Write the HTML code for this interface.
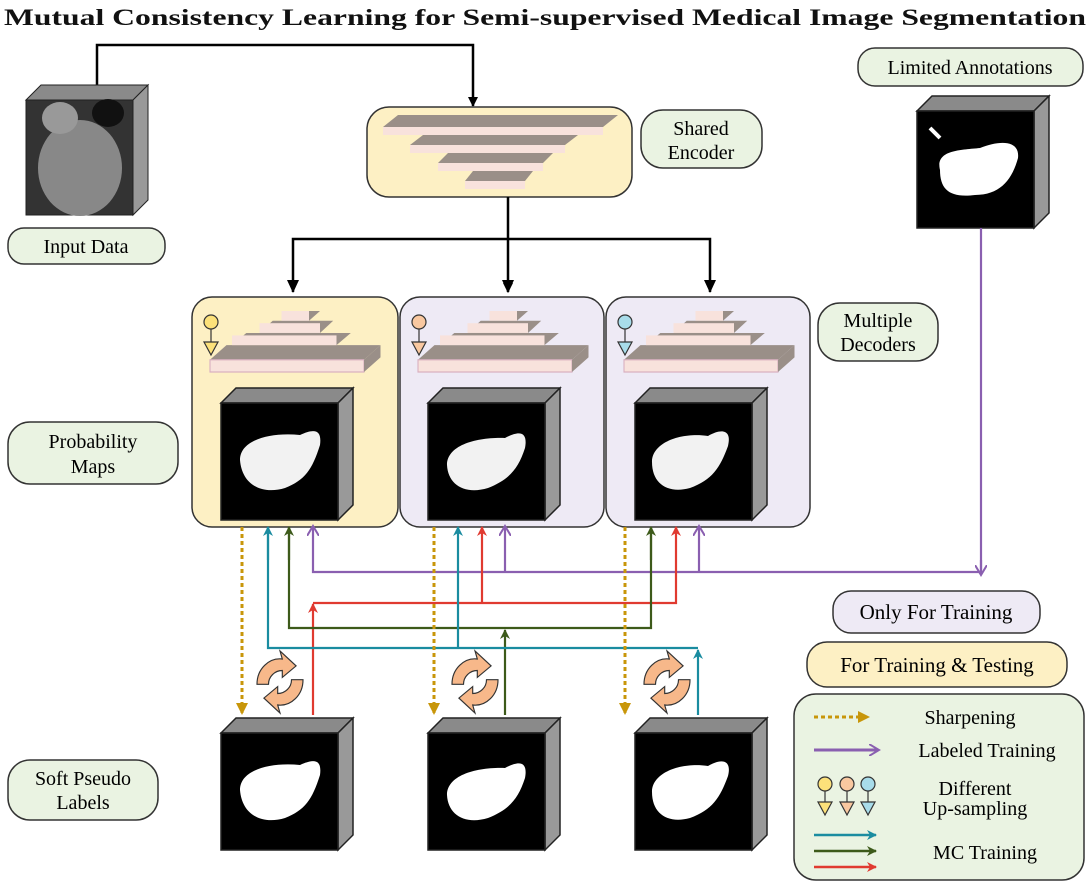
<!DOCTYPE html>
<html><head><meta charset="utf-8"><style>
html,body{margin:0;padding:0;background:#fff;}
svg{display:block;}
svg text{font-family:"Liberation Serif","DejaVu Serif",serif;}
</style></head><body>
<svg width="1091" height="886" viewBox="0 0 1091 886" xmlns="http://www.w3.org/2000/svg">
<defs>
<marker id="ab" markerWidth="10" markerHeight="10" refX="9" refY="5" orient="auto" markerUnits="userSpaceOnUse"><path d="M0,0 L10,5 L0,10 Z" fill="#000"/></marker>
<marker id="ap" markerWidth="12" markerHeight="12" refX="9" refY="6" orient="auto" markerUnits="userSpaceOnUse"><path d="M0,0 L10,6 L0,12" fill="none" stroke="#8a5fb0" stroke-width="2"/></marker>
<marker id="ac" markerWidth="10" markerHeight="10" refX="9" refY="5" orient="auto" markerUnits="userSpaceOnUse"><path d="M0,0 L10,5 L0,10 L3,5Z" fill="#1a8ca0"/></marker>
<marker id="ag" markerWidth="10" markerHeight="10" refX="9" refY="5" orient="auto" markerUnits="userSpaceOnUse"><path d="M0,0 L10,5 L0,10 L3,5Z" fill="#3d5a1a"/></marker>
<marker id="ar" markerWidth="10" markerHeight="10" refX="9" refY="5" orient="auto" markerUnits="userSpaceOnUse"><path d="M0,0 L10,5 L0,10 L3,5Z" fill="#e03a30"/></marker>
<marker id="ay" markerWidth="12" markerHeight="12" refX="10" refY="6" orient="auto" markerUnits="userSpaceOnUse"><path d="M0,0 L12,6 L0,12 Z" fill="#c8960a"/></marker>
<g id="cube">
<polygon points="0,0 15,-15 132,-15 117,0" fill="#8a8a8a" stroke="#222" stroke-width="1.5"/>
<polygon points="117,0 132,-15 132,102 117,117" fill="#999" stroke="#222" stroke-width="1.5"/>
<rect x="0" y="0" width="117" height="117" fill="#000" stroke="#222" stroke-width="1.5"/>
</g>
<g id="dec">
<polygon points="0,40 140,40 155,28 15,28" fill="#9a8f88"/><rect x="0" y="40" width="140" height="10" fill="#f8e2dc" stroke="#d9b0c0"/><polygon points="140,50 155,38 155,28 140,40" fill="#9a8f88"/>
<polygon points="20,28 115,28 128,18 33,18" fill="#9a8f88"/><rect x="20" y="20" width="95" height="8" fill="#f8e2dc"/>
<polygon points="45,18 100,18 112,8 57,8" fill="#9a8f88"/><rect x="45" y="10" width="55" height="8" fill="#f8e2dc"/>
<polygon points="65,8 90,8 100,0 75,0" fill="#9a8f88"/><rect x="65" y="0" width="25" height="8" fill="#f8e2dc"/>
</g>
<g id="cyc">
<path d="M-20,2 A20,22 0 0 1 2,-20 L0,-27 L14,-14 L2,-4 L2,-10 A12,12 0 0 0 -10,2 Z" fill="#f7b88a" stroke="#333"/>
<path d="M20,-2 A20,22 0 0 1 -2,20 L0,27 L-14,14 L-2,4 L-2,10 A12,12 0 0 0 10,-2 Z" fill="#f7b88a" stroke="#333"/>
</g>
</defs>

<text x="4" y="25" font-size="23" font-weight="bold" fill="#111" textLength="1082" lengthAdjust="spacingAndGlyphs">Mutual Consistency Learning for Semi-supervised Medical Image Segmentation</text>

<!-- input -->
<polyline points="97,100 97,45 473,45 473,106" fill="none" stroke="#000" stroke-width="2.5" marker-end="url(#ab)"/>
<polygon points="26,100 41,85 148,85 133,100" fill="#8a8a8a" stroke="#222"/>
<polygon points="133,100 148,85 148,200 133,215" fill="#999" stroke="#222"/>
<rect x="26" y="100" width="107" height="115" fill="#333" stroke="#222"/>
<ellipse cx="80" cy="168" rx="42" ry="48" fill="#888"/><ellipse cx="60" cy="118" rx="18" ry="16" fill="#999"/><ellipse cx="108" cy="113" rx="16" ry="14" fill="#111"/>
<rect x="8" y="228" width="157" height="36" rx="16" fill="#eaf3e2" stroke="#333" stroke-width="1.5"/>
<text x="86" y="253" font-size="20" text-anchor="middle">Input Data</text>

<!-- encoder -->
<rect x="367" y="107" width="265" height="90" rx="22" fill="#fdf0c4" stroke="#333" stroke-width="1.5"/>
<g transform="translate(393,115)">
<polygon points="5,0 225,0 210,12 -10,12" fill="#9a8f88"/><rect x="-10" y="12" width="220" height="8" fill="#f8e2dc"/>
<polygon points="30,20 185,20 172,30 17,30" fill="#9a8f88"/><rect x="17" y="30" width="155" height="8" fill="#f8e2dc"/>
<polygon points="55,38 160,38 150,48 45,48" fill="#9a8f88"/><rect x="45" y="48" width="105" height="8" fill="#f8e2dc"/>
<polygon points="80,56 140,56 132,66 72,66" fill="#9a8f88"/><rect x="72" y="66" width="60" height="8" fill="#f8e2dc"/>
</g>
<rect x="641" y="110" width="121" height="58" rx="22" fill="#eaf3e2" stroke="#333" stroke-width="1.5"/>
<text x="701" y="135" font-size="20" text-anchor="middle">Shared</text>
<text x="701" y="159" font-size="20" text-anchor="middle">Encoder</text>

<polyline points="508,197 508,292" fill="none" stroke="#000" stroke-width="2.5" marker-end="url(#ab)"/>
<polyline points="293,292 293,239 710,239 710,292" fill="none" stroke="#000" stroke-width="2.5"/>
<polygon points="287,280 299,280 293,293" fill="#000"/><polygon points="502,280 514,280 508,293" fill="#000"/><polygon points="704,280 716,280 710,293" fill="#000"/>

<!-- limited annotations -->
<rect x="858" y="48" width="225" height="38" rx="17" fill="#eaf3e2" stroke="#333" stroke-width="1.5"/>
<text x="970" y="74" font-size="20" text-anchor="middle">Limited Annotations</text>
<use href="#cube" x="917" y="111"/>
<path d="M940,170 C935,150 960,150 980,148 C1000,140 1020,140 1018,158 C1012,180 1000,195 975,195 C950,198 940,190 940,170Z" fill="#fff"/>
<path d="M930,128 L940,138" stroke="#fff" stroke-width="4"/>

<!-- decoders -->
<rect x="192" y="297" width="206" height="230" rx="20" fill="#fdf0c4" stroke="#333" stroke-width="1.5"/>
<rect x="400" y="297" width="204" height="230" rx="20" fill="#eeeaf5" stroke="#333" stroke-width="1.5"/>
<rect x="606" y="297" width="204" height="230" rx="20" fill="#eeeaf5" stroke="#333" stroke-width="1.5"/>
<use href="#dec" transform="translate(210,311) scale(1.1,1.22)"/><use href="#dec" transform="translate(418,311) scale(1.1,1.22)"/><use href="#dec" transform="translate(624,311) scale(1.1,1.22)"/>
<g stroke="#333" stroke-width="1.2">
<circle cx="211" cy="322" r="7" fill="#fce17a"/><line x1="211" y1="329" x2="211" y2="342"/><polygon points="204,342 218,342 211,355" fill="#fce17a"/>
<circle cx="419" cy="322" r="7" fill="#f9c8a0"/><line x1="419" y1="329" x2="419" y2="342"/><polygon points="412,342 426,342 419,355" fill="#f9c8a0"/>
<circle cx="625" cy="322" r="7" fill="#a8dcea"/><line x1="625" y1="329" x2="625" y2="342"/><polygon points="618,342 632,342 625,355" fill="#a8dcea"/>
</g>
<use href="#cube" x="221" y="403"/><use href="#cube" x="428" y="403"/><use href="#cube" x="635" y="403"/>
<g fill="#fff">
<path d="M240,460 C240,440 270,432 300,435 C315,428 322,430 320,445 C312,470 305,480 285,488 C262,495 242,485 240,460Z" opacity="0.95"/>
<path d="M447,465 C447,445 477,437 505,438 C520,430 528,432 525,448 C518,470 508,480 488,488 C465,495 448,485 447,465Z" opacity="0.95"/>
<path d="M652,462 C652,442 682,432 708,436 C722,428 732,430 728,446 C720,468 712,480 690,488 C668,494 652,484 652,462Z" opacity="0.95"/>
</g>
<rect x="818" y="303" width="120" height="58" rx="22" fill="#eaf3e2" stroke="#333" stroke-width="1.5"/>
<text x="878" y="327" font-size="20" text-anchor="middle">Multiple</text>
<text x="878" y="351" font-size="20" text-anchor="middle">Decoders</text>
<rect x="8" y="422" width="170" height="62" rx="22" fill="#eaf3e2" stroke="#333" stroke-width="1.5"/>
<text x="93" y="448" font-size="20" text-anchor="middle">Probability</text>
<text x="93" y="473" font-size="20" text-anchor="middle">Maps</text>

<!-- connectors -->
<g fill="none" stroke-width="2.2">
<polyline points="981,228 981,572 313,572 313,527" stroke="#8a5fb0" marker-end="url(#ap)"/>
<line x1="505" y1="572" x2="505" y2="527" stroke="#8a5fb0" marker-end="url(#ap)"/>
<line x1="699" y1="572" x2="699" y2="527" stroke="#8a5fb0" marker-end="url(#ap)"/>
<polyline points="981,560 981,574" stroke="#8a5fb0" marker-end="url(#ap)"/>
<polyline points="313,715 313,604" stroke="#e03a30" marker-end="url(#ar)"/>
<polyline points="313,603 676,603 676,527" stroke="#e03a30" marker-end="url(#ar)"/>
<line x1="482" y1="603" x2="482" y2="527" stroke="#e03a30" marker-end="url(#ar)"/>
<line x1="505" y1="715" x2="505" y2="630" stroke="#3d5a1a" marker-end="url(#ag)"/>
<polyline points="289,527 289,628 651,628 651,527" stroke="#3d5a1a"/>
<line x1="289" y1="560" x2="289" y2="527" stroke="#3d5a1a" marker-end="url(#ag)"/>
<line x1="651" y1="560" x2="651" y2="527" stroke="#3d5a1a" marker-end="url(#ag)"/>
<line x1="698" y1="715" x2="698" y2="650" stroke="#1a8ca0" marker-end="url(#ac)"/>
<polyline points="268,527 268,648 698,648" stroke="#1a8ca0"/>
<line x1="268" y1="560" x2="268" y2="527" stroke="#1a8ca0" marker-end="url(#ac)"/>
<line x1="458" y1="648" x2="458" y2="527" stroke="#1a8ca0" marker-end="url(#ac)"/>
<g stroke="#c8960a" stroke-width="3" stroke-dasharray="4,3">
<line x1="242" y1="527" x2="242" y2="713" marker-end="url(#ay)"/>
<line x1="434" y1="527" x2="434" y2="713" marker-end="url(#ay)"/>
<line x1="625" y1="527" x2="625" y2="713" marker-end="url(#ay)"/>
</g>
</g>
<use href="#cyc" transform="translate(280,682) scale(1.15)"/><use href="#cyc" transform="translate(475,682) scale(1.15)"/><use href="#cyc" transform="translate(667,682) scale(1.15)"/>

<!-- soft labels -->
<use href="#cube" x="221" y="733"/><use href="#cube" x="428" y="733"/><use href="#cube" x="635" y="733"/>
<g fill="#fff">
<path d="M240,790 C240,770 270,762 300,765 C315,758 322,760 320,775 C312,800 305,810 285,818 C262,825 242,815 240,790Z"/>
<path d="M447,795 C447,775 477,767 505,768 C520,760 528,762 525,778 C518,800 508,810 488,818 C465,825 448,815 447,795Z"/>
<path d="M652,792 C652,772 682,762 708,766 C722,758 732,760 728,776 C720,798 712,810 690,818 C668,824 652,814 652,792Z"/>
</g>
<rect x="8" y="760" width="150" height="60" rx="22" fill="#eaf3e2" stroke="#333" stroke-width="1.5"/>
<text x="83" y="785" font-size="20" text-anchor="middle">Soft Pseudo</text>
<text x="83" y="809" font-size="20" text-anchor="middle">Labels</text>

<!-- legend -->
<rect x="833" y="591" width="207" height="42" rx="18" fill="#eeeaf5" stroke="#333" stroke-width="1.5"/>
<text x="936" y="619" font-size="21" text-anchor="middle">Only For Training</text>
<rect x="807" y="642" width="260" height="45" rx="20" fill="#fdf0c4" stroke="#333" stroke-width="1.5"/>
<text x="937" y="672" font-size="21" text-anchor="middle">For Training &amp; Testing</text>
<rect x="794" y="694" width="290" height="186" rx="22" fill="#eaf3e2" stroke="#333" stroke-width="1.5"/>
<line x1="814" y1="717" x2="868" y2="717" stroke="#c8960a" stroke-width="3" stroke-dasharray="4,3" marker-end="url(#ay)"/>
<text x="970" y="724" font-size="20" text-anchor="middle">Sharpening</text>
<line x1="814" y1="750" x2="878" y2="750" stroke="#8a5fb0" stroke-width="3" marker-end="url(#ap)"/>
<text x="987" y="757" font-size="20" text-anchor="middle">Labeled Training</text>
<g stroke="#333" stroke-width="1.2">
<circle cx="825" cy="784" r="7" fill="#fce17a"/><line x1="825" y1="791" x2="825" y2="802"/><polygon points="818,802 832,802 825,815" fill="#fce17a"/>
<circle cx="847" cy="784" r="7" fill="#f9c8a0"/><line x1="847" y1="791" x2="847" y2="802"/><polygon points="840,802 854,802 847,815" fill="#f9c8a0"/>
<circle cx="868" cy="784" r="7" fill="#a8dcea"/><line x1="868" y1="791" x2="868" y2="802"/><polygon points="861,802 875,802 868,815" fill="#a8dcea"/>
</g>
<text x="975" y="795" font-size="20" text-anchor="middle">Different</text>
<text x="975" y="815" font-size="20" text-anchor="middle">Up-sampling</text>
<line x1="814" y1="835" x2="876" y2="835" stroke="#1a8ca0" stroke-width="2.5" marker-end="url(#ac)"/>
<line x1="814" y1="851" x2="876" y2="851" stroke="#3d5a1a" stroke-width="2.5" marker-end="url(#ag)"/>
<line x1="814" y1="867" x2="876" y2="867" stroke="#e03a30" stroke-width="2.5" marker-end="url(#ar)"/>
<text x="985" y="859" font-size="20" text-anchor="middle">MC Training</text>
</svg>
</body></html>
